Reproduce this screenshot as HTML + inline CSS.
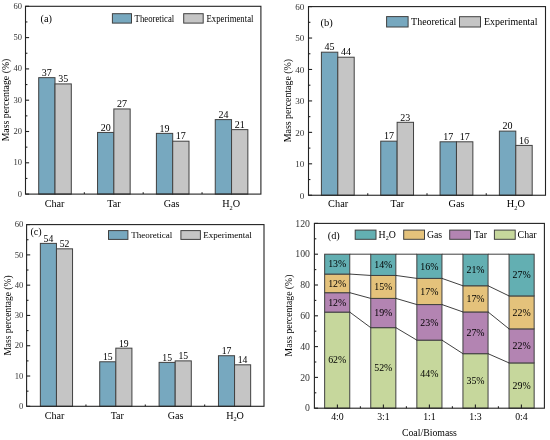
<!DOCTYPE html><html><head><meta charset="utf-8"><style>html,body{margin:0;padding:0;background:#fff;overflow:hidden;width:550px;height:440px;}svg{display:block;filter:blur(0.3px);}text{font-family:"Liberation Serif",serif;fill:#000;}</style></head><body>
<svg width="550" height="440" viewBox="0 0 550 440">
<rect width="550" height="440" fill="#fff"/>
<rect x="38.70" y="77.66" width="16.30" height="116.44" fill="#77a8bf" stroke="#404040" stroke-width="1.0"/>
<rect x="55.00" y="83.92" width="16.30" height="110.18" fill="#c5c5c5" stroke="#404040" stroke-width="1.0"/>
<text x="46.85" y="75.86" font-size="10" text-anchor="middle" >37</text>
<text x="63.15" y="82.12" font-size="10" text-anchor="middle" >35</text>
<rect x="97.55" y="132.44" width="16.30" height="61.66" fill="#77a8bf" stroke="#404040" stroke-width="1.0"/>
<rect x="113.85" y="108.96" width="16.30" height="85.14" fill="#c5c5c5" stroke="#404040" stroke-width="1.0"/>
<text x="105.70" y="130.64" font-size="10" text-anchor="middle" >20</text>
<text x="122.00" y="107.16" font-size="10" text-anchor="middle" >27</text>
<rect x="156.40" y="133.38" width="16.30" height="60.72" fill="#77a8bf" stroke="#404040" stroke-width="1.0"/>
<rect x="172.70" y="141.20" width="16.30" height="52.90" fill="#c5c5c5" stroke="#404040" stroke-width="1.0"/>
<text x="164.55" y="131.58" font-size="10" text-anchor="middle" >19</text>
<text x="180.85" y="139.40" font-size="10" text-anchor="middle" >17</text>
<rect x="215.25" y="119.61" width="16.30" height="74.49" fill="#77a8bf" stroke="#404040" stroke-width="1.0"/>
<rect x="231.55" y="129.62" width="16.30" height="64.48" fill="#c5c5c5" stroke="#404040" stroke-width="1.0"/>
<text x="223.40" y="117.81" font-size="10" text-anchor="middle" >24</text>
<text x="239.70" y="127.82" font-size="10" text-anchor="middle" >21</text>
<rect x="25.5" y="6.3" width="235.40" height="187.80" fill="none" stroke="#222" stroke-width="1.1"/>
<line x1="25.50" y1="194.10" x2="29.10" y2="194.10" stroke="#222" stroke-width="1.1"/>
<text x="21.90" y="196.50" font-size="8.5" text-anchor="end" style="fill:#333">0</text>
<line x1="25.50" y1="178.45" x2="27.40" y2="178.45" stroke="#222" stroke-width="1.1"/>
<line x1="25.50" y1="162.80" x2="29.10" y2="162.80" stroke="#222" stroke-width="1.1"/>
<text x="21.90" y="165.20" font-size="8.5" text-anchor="end" style="fill:#333">10</text>
<line x1="25.50" y1="147.15" x2="27.40" y2="147.15" stroke="#222" stroke-width="1.1"/>
<line x1="25.50" y1="131.50" x2="29.10" y2="131.50" stroke="#222" stroke-width="1.1"/>
<text x="21.90" y="133.90" font-size="8.5" text-anchor="end" style="fill:#333">20</text>
<line x1="25.50" y1="115.85" x2="27.40" y2="115.85" stroke="#222" stroke-width="1.1"/>
<line x1="25.50" y1="100.20" x2="29.10" y2="100.20" stroke="#222" stroke-width="1.1"/>
<text x="21.90" y="102.60" font-size="8.5" text-anchor="end" style="fill:#333">30</text>
<line x1="25.50" y1="84.55" x2="27.40" y2="84.55" stroke="#222" stroke-width="1.1"/>
<line x1="25.50" y1="68.90" x2="29.10" y2="68.90" stroke="#222" stroke-width="1.1"/>
<text x="21.90" y="71.30" font-size="8.5" text-anchor="end" style="fill:#333">40</text>
<line x1="25.50" y1="53.25" x2="27.40" y2="53.25" stroke="#222" stroke-width="1.1"/>
<line x1="25.50" y1="37.60" x2="29.10" y2="37.60" stroke="#222" stroke-width="1.1"/>
<text x="21.90" y="40.00" font-size="8.5" text-anchor="end" style="fill:#333">50</text>
<line x1="25.50" y1="21.95" x2="27.40" y2="21.95" stroke="#222" stroke-width="1.1"/>
<line x1="25.50" y1="6.30" x2="29.10" y2="6.30" stroke="#222" stroke-width="1.1"/>
<text x="21.90" y="8.70" font-size="8.5" text-anchor="end" style="fill:#333">60</text>
<line x1="84.35" y1="194.10" x2="84.35" y2="192.20" stroke="#222" stroke-width="1.1"/>
<line x1="143.20" y1="194.10" x2="143.20" y2="192.20" stroke="#222" stroke-width="1.1"/>
<line x1="202.05" y1="194.10" x2="202.05" y2="192.20" stroke="#222" stroke-width="1.1"/>
<text x="54.60" y="206.80" font-size="10.2" text-anchor="middle" >Char</text>
<text x="114.00" y="206.80" font-size="10.2" text-anchor="middle" >Tar</text>
<text x="171.60" y="206.80" font-size="10.2" text-anchor="middle" >Gas</text>
<text x="231.20" y="207.40" font-size="10.2" text-anchor="middle" >H<tspan font-size="0.62em" dy="2.3">2</tspan><tspan dy="-2.3">O</tspan></text>
<text x="0" y="0" font-size="9.8" text-anchor="middle" transform="translate(9.4,100.0) rotate(-90)">Mass percentage (%)</text>
<text x="40.50" y="21.80" font-size="10.3" text-anchor="start" >(a)</text>
<rect x="112.40" y="13.70" width="19.10" height="9.40" fill="#77a8bf" stroke="#404040" stroke-width="1.0"/>
<text x="151.24" y="22.20" font-size="9.8" text-anchor="start" transform="scale(0.89,1)" >Theoretical</text>
<rect x="183.70" y="13.70" width="19.50" height="9.40" fill="#c5c5c5" stroke="#404040" stroke-width="1.0"/>
<text x="232.02" y="22.20" font-size="9.8" text-anchor="start" transform="scale(0.89,1)" >Experimental</text>
<rect x="321.40" y="52.19" width="16.40" height="143.06" fill="#77a8bf" stroke="#404040" stroke-width="1.0"/>
<rect x="337.80" y="57.22" width="16.40" height="138.03" fill="#c5c5c5" stroke="#404040" stroke-width="1.0"/>
<text x="329.60" y="50.39" font-size="10" text-anchor="middle" >45</text>
<text x="346.00" y="55.42" font-size="10" text-anchor="middle" >44</text>
<rect x="380.73" y="141.17" width="16.40" height="54.08" fill="#77a8bf" stroke="#404040" stroke-width="1.0"/>
<rect x="397.13" y="122.31" width="16.40" height="72.94" fill="#c5c5c5" stroke="#404040" stroke-width="1.0"/>
<text x="388.93" y="139.37" font-size="10" text-anchor="middle" >17</text>
<text x="405.33" y="120.51" font-size="10" text-anchor="middle" >23</text>
<rect x="440.06" y="141.80" width="16.40" height="53.45" fill="#77a8bf" stroke="#404040" stroke-width="1.0"/>
<rect x="456.46" y="141.80" width="16.40" height="53.45" fill="#c5c5c5" stroke="#404040" stroke-width="1.0"/>
<text x="448.26" y="140.00" font-size="10" text-anchor="middle" >17</text>
<text x="464.66" y="140.00" font-size="10" text-anchor="middle" >17</text>
<rect x="499.39" y="131.11" width="16.40" height="64.14" fill="#77a8bf" stroke="#404040" stroke-width="1.0"/>
<rect x="515.79" y="145.41" width="16.40" height="49.84" fill="#c5c5c5" stroke="#404040" stroke-width="1.0"/>
<text x="507.59" y="129.31" font-size="10" text-anchor="middle" >20</text>
<text x="523.99" y="143.61" font-size="10" text-anchor="middle" >16</text>
<rect x="308.5" y="6.6" width="237.00" height="188.65" fill="none" stroke="#222" stroke-width="1.1"/>
<line x1="308.50" y1="195.25" x2="312.10" y2="195.25" stroke="#222" stroke-width="1.1"/>
<text x="304.30" y="198.65" font-size="9.1" text-anchor="end" style="fill:#333">0</text>
<line x1="308.50" y1="179.53" x2="310.40" y2="179.53" stroke="#222" stroke-width="1.1"/>
<line x1="308.50" y1="163.81" x2="312.10" y2="163.81" stroke="#222" stroke-width="1.1"/>
<text x="304.30" y="167.21" font-size="9.1" text-anchor="end" style="fill:#333">10</text>
<line x1="308.50" y1="148.09" x2="310.40" y2="148.09" stroke="#222" stroke-width="1.1"/>
<line x1="308.50" y1="132.37" x2="312.10" y2="132.37" stroke="#222" stroke-width="1.1"/>
<text x="304.30" y="135.77" font-size="9.1" text-anchor="end" style="fill:#333">20</text>
<line x1="308.50" y1="116.65" x2="310.40" y2="116.65" stroke="#222" stroke-width="1.1"/>
<line x1="308.50" y1="100.92" x2="312.10" y2="100.92" stroke="#222" stroke-width="1.1"/>
<text x="304.30" y="104.33" font-size="9.1" text-anchor="end" style="fill:#333">30</text>
<line x1="308.50" y1="85.20" x2="310.40" y2="85.20" stroke="#222" stroke-width="1.1"/>
<line x1="308.50" y1="69.48" x2="312.10" y2="69.48" stroke="#222" stroke-width="1.1"/>
<text x="304.30" y="72.88" font-size="9.1" text-anchor="end" style="fill:#333">40</text>
<line x1="308.50" y1="53.76" x2="310.40" y2="53.76" stroke="#222" stroke-width="1.1"/>
<line x1="308.50" y1="38.04" x2="312.10" y2="38.04" stroke="#222" stroke-width="1.1"/>
<text x="304.30" y="41.44" font-size="9.1" text-anchor="end" style="fill:#333">50</text>
<line x1="308.50" y1="22.32" x2="310.40" y2="22.32" stroke="#222" stroke-width="1.1"/>
<line x1="308.50" y1="6.60" x2="312.10" y2="6.60" stroke="#222" stroke-width="1.1"/>
<text x="304.30" y="10.00" font-size="9.1" text-anchor="end" style="fill:#333">60</text>
<line x1="367.75" y1="195.25" x2="367.75" y2="193.35" stroke="#222" stroke-width="1.1"/>
<line x1="427.00" y1="195.25" x2="427.00" y2="193.35" stroke="#222" stroke-width="1.1"/>
<line x1="486.25" y1="195.25" x2="486.25" y2="193.35" stroke="#222" stroke-width="1.1"/>
<text x="338.12" y="207.20" font-size="10.3" text-anchor="middle" >Char</text>
<text x="397.38" y="207.20" font-size="10.3" text-anchor="middle" >Tar</text>
<text x="456.62" y="207.20" font-size="10.3" text-anchor="middle" >Gas</text>
<text x="515.88" y="207.20" font-size="10.3" text-anchor="middle" >H<tspan font-size="0.62em" dy="2.3">2</tspan><tspan dy="-2.3">O</tspan></text>
<text x="0" y="0" font-size="9.9" text-anchor="middle" transform="translate(291.3,100.6) rotate(-90)">Mass percentage (%)</text>
<text x="320.50" y="25.60" font-size="10.5" text-anchor="start" >(b)</text>
<rect x="386.60" y="16.60" width="21.50" height="10.40" fill="#77a8bf" stroke="#404040" stroke-width="1.0"/>
<text x="411.10" y="25.30" font-size="9.95" text-anchor="start" >Theoretical</text>
<rect x="459.50" y="16.70" width="21.00" height="10.30" fill="#c5c5c5" stroke="#404040" stroke-width="1.0"/>
<text x="484.00" y="25.30" font-size="9.95" text-anchor="start" >Experimental</text>
<rect x="40.35" y="243.38" width="16.10" height="162.92" fill="#77a8bf" stroke="#404040" stroke-width="1.0"/>
<rect x="56.45" y="248.83" width="16.10" height="157.47" fill="#c5c5c5" stroke="#404040" stroke-width="1.0"/>
<text x="48.40" y="241.98" font-size="9.7" text-anchor="middle" >54</text>
<text x="64.50" y="247.43" font-size="9.7" text-anchor="middle" >52</text>
<rect x="99.72" y="361.78" width="16.10" height="44.52" fill="#77a8bf" stroke="#404040" stroke-width="1.0"/>
<rect x="115.82" y="348.16" width="16.10" height="58.14" fill="#c5c5c5" stroke="#404040" stroke-width="1.0"/>
<text x="107.77" y="360.38" font-size="9.7" text-anchor="middle" >15</text>
<text x="123.87" y="346.76" font-size="9.7" text-anchor="middle" >19</text>
<rect x="159.09" y="362.39" width="16.10" height="43.91" fill="#77a8bf" stroke="#404040" stroke-width="1.0"/>
<rect x="175.19" y="360.88" width="16.10" height="45.43" fill="#c5c5c5" stroke="#404040" stroke-width="1.0"/>
<text x="167.14" y="360.99" font-size="9.7" text-anchor="middle" >15</text>
<text x="183.24" y="359.48" font-size="9.7" text-anchor="middle" >15</text>
<rect x="218.46" y="355.73" width="16.10" height="50.57" fill="#77a8bf" stroke="#404040" stroke-width="1.0"/>
<rect x="234.56" y="364.81" width="16.10" height="41.49" fill="#c5c5c5" stroke="#404040" stroke-width="1.0"/>
<text x="226.51" y="354.33" font-size="9.7" text-anchor="middle" >17</text>
<text x="242.61" y="363.41" font-size="9.7" text-anchor="middle" >14</text>
<rect x="26.6" y="224.6" width="237.40" height="181.70" fill="none" stroke="#222" stroke-width="1.1"/>
<line x1="26.60" y1="406.30" x2="30.20" y2="406.30" stroke="#222" stroke-width="1.1"/>
<text x="23.40" y="409.00" font-size="8.6" text-anchor="end" style="fill:#333">0</text>
<line x1="26.60" y1="391.16" x2="28.50" y2="391.16" stroke="#222" stroke-width="1.1"/>
<line x1="26.60" y1="376.02" x2="30.20" y2="376.02" stroke="#222" stroke-width="1.1"/>
<text x="23.40" y="378.72" font-size="8.6" text-anchor="end" style="fill:#333">10</text>
<line x1="26.60" y1="360.88" x2="28.50" y2="360.88" stroke="#222" stroke-width="1.1"/>
<line x1="26.60" y1="345.73" x2="30.20" y2="345.73" stroke="#222" stroke-width="1.1"/>
<text x="23.40" y="348.43" font-size="8.6" text-anchor="end" style="fill:#333">20</text>
<line x1="26.60" y1="330.59" x2="28.50" y2="330.59" stroke="#222" stroke-width="1.1"/>
<line x1="26.60" y1="315.45" x2="30.20" y2="315.45" stroke="#222" stroke-width="1.1"/>
<text x="23.40" y="318.15" font-size="8.6" text-anchor="end" style="fill:#333">30</text>
<line x1="26.60" y1="300.31" x2="28.50" y2="300.31" stroke="#222" stroke-width="1.1"/>
<line x1="26.60" y1="285.17" x2="30.20" y2="285.17" stroke="#222" stroke-width="1.1"/>
<text x="23.40" y="287.87" font-size="8.6" text-anchor="end" style="fill:#333">40</text>
<line x1="26.60" y1="270.02" x2="28.50" y2="270.02" stroke="#222" stroke-width="1.1"/>
<line x1="26.60" y1="254.88" x2="30.20" y2="254.88" stroke="#222" stroke-width="1.1"/>
<text x="23.40" y="257.58" font-size="8.6" text-anchor="end" style="fill:#333">50</text>
<line x1="26.60" y1="239.74" x2="28.50" y2="239.74" stroke="#222" stroke-width="1.1"/>
<line x1="26.60" y1="224.60" x2="30.20" y2="224.60" stroke="#222" stroke-width="1.1"/>
<text x="23.40" y="227.30" font-size="8.6" text-anchor="end" style="fill:#333">60</text>
<line x1="85.95" y1="406.30" x2="85.95" y2="404.40" stroke="#222" stroke-width="1.1"/>
<line x1="145.30" y1="406.30" x2="145.30" y2="404.40" stroke="#222" stroke-width="1.1"/>
<line x1="204.65" y1="406.30" x2="204.65" y2="404.40" stroke="#222" stroke-width="1.1"/>
<text x="54.60" y="419.10" font-size="10.1" text-anchor="middle" >Char</text>
<text x="117.30" y="419.10" font-size="10.1" text-anchor="middle" >Tar</text>
<text x="175.50" y="419.10" font-size="10.1" text-anchor="middle" >Gas</text>
<text x="235.00" y="419.10" font-size="10.1" text-anchor="middle" >H<tspan font-size="0.62em" dy="2.3">2</tspan><tspan dy="-2.3">O</tspan></text>
<text x="0" y="0" font-size="9.5" text-anchor="middle" transform="translate(10.7,315.5) rotate(-90)">Mass percentage (%)</text>
<text x="30.40" y="235.20" font-size="10.1" text-anchor="start" >(c)</text>
<rect x="108.50" y="230.60" width="19.40" height="8.80" fill="#77a8bf" stroke="#404040" stroke-width="1.0"/>
<text x="131.20" y="237.50" font-size="9.0" text-anchor="start" >Theoretical</text>
<rect x="180.90" y="230.60" width="19.50" height="8.80" fill="#c5c5c5" stroke="#404040" stroke-width="1.0"/>
<text x="203.30" y="237.50" font-size="9.0" text-anchor="start" >Experimental</text>
<rect x="324.65" y="312.10" width="25.10" height="96.10" fill="#c6d79c" stroke="#404040" stroke-width="1.0"/>
<rect x="324.65" y="292.70" width="25.10" height="19.40" fill="#b384b2" stroke="#404040" stroke-width="1.0"/>
<rect x="324.65" y="274.07" width="25.10" height="18.63" fill="#e4c27b" stroke="#404040" stroke-width="1.0"/>
<rect x="324.65" y="254.20" width="25.10" height="19.87" fill="#63afb2" stroke="#404040" stroke-width="1.0"/>
<rect x="370.75" y="327.66" width="25.10" height="80.54" fill="#c6d79c" stroke="#404040" stroke-width="1.0"/>
<rect x="370.75" y="298.40" width="25.10" height="29.26" fill="#b384b2" stroke="#404040" stroke-width="1.0"/>
<rect x="370.75" y="275.45" width="25.10" height="22.95" fill="#e4c27b" stroke="#404040" stroke-width="1.0"/>
<rect x="370.75" y="254.20" width="25.10" height="21.25" fill="#63afb2" stroke="#404040" stroke-width="1.0"/>
<rect x="416.85" y="340.13" width="25.10" height="68.07" fill="#c6d79c" stroke="#404040" stroke-width="1.0"/>
<rect x="416.85" y="304.56" width="25.10" height="35.57" fill="#b384b2" stroke="#404040" stroke-width="1.0"/>
<rect x="416.85" y="278.38" width="25.10" height="26.18" fill="#e4c27b" stroke="#404040" stroke-width="1.0"/>
<rect x="416.85" y="254.20" width="25.10" height="24.18" fill="#63afb2" stroke="#404040" stroke-width="1.0"/>
<rect x="462.95" y="353.68" width="25.10" height="54.52" fill="#c6d79c" stroke="#404040" stroke-width="1.0"/>
<rect x="462.95" y="311.95" width="25.10" height="41.73" fill="#b384b2" stroke="#404040" stroke-width="1.0"/>
<rect x="462.95" y="285.77" width="25.10" height="26.18" fill="#e4c27b" stroke="#404040" stroke-width="1.0"/>
<rect x="462.95" y="254.20" width="25.10" height="31.57" fill="#63afb2" stroke="#404040" stroke-width="1.0"/>
<rect x="509.05" y="362.92" width="25.10" height="45.28" fill="#c6d79c" stroke="#404040" stroke-width="1.0"/>
<rect x="509.05" y="328.89" width="25.10" height="34.03" fill="#b384b2" stroke="#404040" stroke-width="1.0"/>
<rect x="509.05" y="295.93" width="25.10" height="32.96" fill="#e4c27b" stroke="#404040" stroke-width="1.0"/>
<rect x="509.05" y="254.20" width="25.10" height="41.73" fill="#63afb2" stroke="#404040" stroke-width="1.0"/>
<text x="337.20" y="363.45" font-size="9.9" text-anchor="middle" >62%</text>
<text x="337.20" y="305.70" font-size="9.9" text-anchor="middle" >12%</text>
<text x="337.20" y="286.68" font-size="9.9" text-anchor="middle" >12%</text>
<text x="337.20" y="267.43" font-size="9.9" text-anchor="middle" >13%</text>
<text x="383.30" y="371.23" font-size="9.9" text-anchor="middle" >52%</text>
<text x="383.30" y="316.33" font-size="9.9" text-anchor="middle" >19%</text>
<text x="383.30" y="290.23" font-size="9.9" text-anchor="middle" >15%</text>
<text x="383.30" y="268.13" font-size="9.9" text-anchor="middle" >14%</text>
<text x="429.40" y="377.47" font-size="9.9" text-anchor="middle" >44%</text>
<text x="429.40" y="325.65" font-size="9.9" text-anchor="middle" >23%</text>
<text x="429.40" y="294.77" font-size="9.9" text-anchor="middle" >17%</text>
<text x="429.40" y="269.59" font-size="9.9" text-anchor="middle" >16%</text>
<text x="475.50" y="384.24" font-size="9.9" text-anchor="middle" >35%</text>
<text x="475.50" y="336.12" font-size="9.9" text-anchor="middle" >27%</text>
<text x="475.50" y="302.16" font-size="9.9" text-anchor="middle" >17%</text>
<text x="475.50" y="273.29" font-size="9.9" text-anchor="middle" >21%</text>
<text x="521.60" y="388.86" font-size="9.9" text-anchor="middle" >29%</text>
<text x="521.60" y="349.21" font-size="9.9" text-anchor="middle" >22%</text>
<text x="521.60" y="315.71" font-size="9.9" text-anchor="middle" >22%</text>
<text x="521.60" y="278.37" font-size="9.9" text-anchor="middle" >27%</text>
<line x1="349.75" y1="312.10" x2="370.75" y2="327.66" stroke="#2a2a2a" stroke-width="0.9"/>
<line x1="349.75" y1="292.70" x2="370.75" y2="298.40" stroke="#2a2a2a" stroke-width="0.9"/>
<line x1="349.75" y1="274.07" x2="370.75" y2="275.45" stroke="#2a2a2a" stroke-width="0.9"/>
<line x1="349.75" y1="254.20" x2="370.75" y2="254.20" stroke="#2a2a2a" stroke-width="0.9"/>
<line x1="395.85" y1="327.66" x2="416.85" y2="340.13" stroke="#2a2a2a" stroke-width="0.9"/>
<line x1="395.85" y1="298.40" x2="416.85" y2="304.56" stroke="#2a2a2a" stroke-width="0.9"/>
<line x1="395.85" y1="275.45" x2="416.85" y2="278.38" stroke="#2a2a2a" stroke-width="0.9"/>
<line x1="395.85" y1="254.20" x2="416.85" y2="254.20" stroke="#2a2a2a" stroke-width="0.9"/>
<line x1="441.95" y1="340.13" x2="462.95" y2="353.68" stroke="#2a2a2a" stroke-width="0.9"/>
<line x1="441.95" y1="304.56" x2="462.95" y2="311.95" stroke="#2a2a2a" stroke-width="0.9"/>
<line x1="441.95" y1="278.38" x2="462.95" y2="285.77" stroke="#2a2a2a" stroke-width="0.9"/>
<line x1="441.95" y1="254.20" x2="462.95" y2="254.20" stroke="#2a2a2a" stroke-width="0.9"/>
<line x1="488.05" y1="353.68" x2="509.05" y2="362.92" stroke="#2a2a2a" stroke-width="0.9"/>
<line x1="488.05" y1="311.95" x2="509.05" y2="328.89" stroke="#2a2a2a" stroke-width="0.9"/>
<line x1="488.05" y1="285.77" x2="509.05" y2="295.93" stroke="#2a2a2a" stroke-width="0.9"/>
<line x1="488.05" y1="254.20" x2="509.05" y2="254.20" stroke="#2a2a2a" stroke-width="0.9"/>
<rect x="314.4" y="223.4" width="230.00" height="184.80" fill="none" stroke="#222" stroke-width="1.1"/>
<line x1="314.40" y1="408.20" x2="318.00" y2="408.20" stroke="#222" stroke-width="1.1"/>
<text x="310.00" y="411.40" font-size="9.8" text-anchor="end" style="fill:#333">0</text>
<line x1="314.40" y1="392.80" x2="316.30" y2="392.80" stroke="#222" stroke-width="1.1"/>
<line x1="314.40" y1="377.40" x2="318.00" y2="377.40" stroke="#222" stroke-width="1.1"/>
<text x="310.00" y="380.60" font-size="9.8" text-anchor="end" style="fill:#333">20</text>
<line x1="314.40" y1="362.00" x2="316.30" y2="362.00" stroke="#222" stroke-width="1.1"/>
<line x1="314.40" y1="346.60" x2="318.00" y2="346.60" stroke="#222" stroke-width="1.1"/>
<text x="310.00" y="349.80" font-size="9.8" text-anchor="end" style="fill:#333">40</text>
<line x1="314.40" y1="331.20" x2="316.30" y2="331.20" stroke="#222" stroke-width="1.1"/>
<line x1="314.40" y1="315.80" x2="318.00" y2="315.80" stroke="#222" stroke-width="1.1"/>
<text x="310.00" y="319.00" font-size="9.8" text-anchor="end" style="fill:#333">60</text>
<line x1="314.40" y1="300.40" x2="316.30" y2="300.40" stroke="#222" stroke-width="1.1"/>
<line x1="314.40" y1="285.00" x2="318.00" y2="285.00" stroke="#222" stroke-width="1.1"/>
<text x="310.00" y="288.20" font-size="9.8" text-anchor="end" style="fill:#333">80</text>
<line x1="314.40" y1="269.60" x2="316.30" y2="269.60" stroke="#222" stroke-width="1.1"/>
<line x1="314.40" y1="254.20" x2="318.00" y2="254.20" stroke="#222" stroke-width="1.1"/>
<text x="310.00" y="257.40" font-size="9.8" text-anchor="end" style="fill:#333">100</text>
<line x1="314.40" y1="238.80" x2="316.30" y2="238.80" stroke="#222" stroke-width="1.1"/>
<line x1="314.40" y1="223.40" x2="318.00" y2="223.40" stroke="#222" stroke-width="1.1"/>
<text x="310.00" y="226.60" font-size="9.8" text-anchor="end" style="fill:#333">120</text>
<line x1="337.40" y1="408.20" x2="337.40" y2="404.60" stroke="#222" stroke-width="1.1"/>
<text x="337.40" y="420.30" font-size="9.8" text-anchor="middle" >4:0</text>
<line x1="383.40" y1="408.20" x2="383.40" y2="404.60" stroke="#222" stroke-width="1.1"/>
<text x="383.40" y="420.30" font-size="9.8" text-anchor="middle" >3:1</text>
<line x1="360.40" y1="408.20" x2="360.40" y2="406.30" stroke="#222" stroke-width="1.1"/>
<line x1="429.40" y1="408.20" x2="429.40" y2="404.60" stroke="#222" stroke-width="1.1"/>
<text x="429.40" y="420.30" font-size="9.8" text-anchor="middle" >1:1</text>
<line x1="406.40" y1="408.20" x2="406.40" y2="406.30" stroke="#222" stroke-width="1.1"/>
<line x1="475.40" y1="408.20" x2="475.40" y2="404.60" stroke="#222" stroke-width="1.1"/>
<text x="475.40" y="420.30" font-size="9.8" text-anchor="middle" >1:3</text>
<line x1="452.40" y1="408.20" x2="452.40" y2="406.30" stroke="#222" stroke-width="1.1"/>
<line x1="521.40" y1="408.20" x2="521.40" y2="404.60" stroke="#222" stroke-width="1.1"/>
<text x="521.40" y="420.30" font-size="9.8" text-anchor="middle" >0:4</text>
<line x1="498.40" y1="408.20" x2="498.40" y2="406.30" stroke="#222" stroke-width="1.1"/>
<text x="429.40" y="436.00" font-size="9.8" text-anchor="middle" >Coal/Biomass</text>
<text x="0" y="0" font-size="9.7" text-anchor="middle" transform="translate(291.9,315.5) rotate(-90)">Mass percentage (%)</text>
<text x="327.80" y="239.00" font-size="10.3" text-anchor="start" >(d)</text>
<rect x="355.20" y="230.10" width="20.80" height="9.20" fill="#63afb2" stroke="#404040" stroke-width="1.0"/>
<text x="378.60" y="237.90" font-size="9.8" text-anchor="start" >H<tspan font-size="0.62em" dy="2.3">2</tspan><tspan dy="-2.3">O</tspan></text>
<rect x="403.70" y="230.10" width="20.80" height="9.20" fill="#e4c27b" stroke="#404040" stroke-width="1.0"/>
<text x="426.90" y="237.90" font-size="9.8" text-anchor="start" >Gas</text>
<rect x="449.70" y="230.10" width="20.80" height="9.20" fill="#b384b2" stroke="#404040" stroke-width="1.0"/>
<text x="474.00" y="237.90" font-size="9.8" text-anchor="start" >Tar</text>
<rect x="494.40" y="230.10" width="20.80" height="9.20" fill="#c6d79c" stroke="#404040" stroke-width="1.0"/>
<text x="517.60" y="237.90" font-size="9.8" text-anchor="start" >Char</text>
</svg></body></html>
